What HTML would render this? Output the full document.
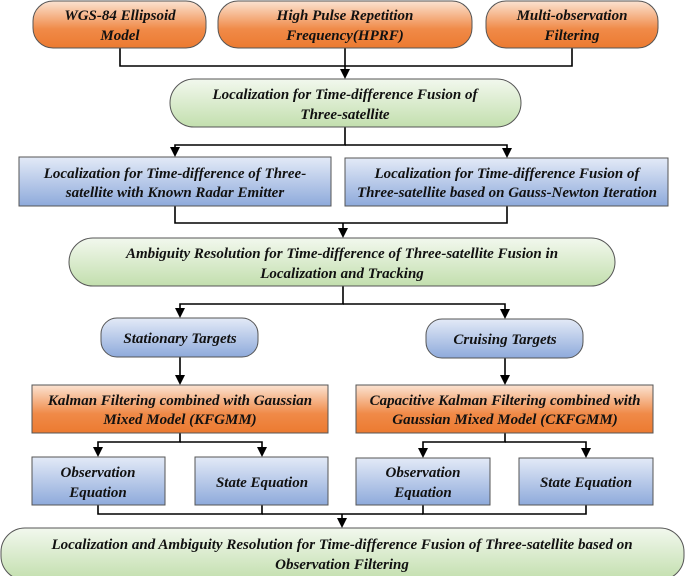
<!DOCTYPE html>
<html><head><meta charset="utf-8"><style>
html,body{margin:0;padding:0;background:#fff;}
svg{display:block;}
text{font-family:"Liberation Serif","DejaVu Serif",serif;font-weight:bold;font-style:italic;font-size:15px;fill:#111;text-anchor:middle;}
</style></head><body>
<svg width="685" height="576" viewBox="0 0 685 576" xmlns="http://www.w3.org/2000/svg" font-family="Liberation Serif, DejaVu Serif, serif">
<defs>
<linearGradient id="o" x1="0" y1="0" x2="0" y2="1"><stop offset="0" stop-color="#fbe3d2"/><stop offset="0.6" stop-color="#f08a48"/><stop offset="1" stop-color="#ec7a30"/></linearGradient>
<linearGradient id="g" x1="0" y1="0" x2="0" y2="1"><stop offset="0" stop-color="#f2f8ee"/><stop offset="1" stop-color="#c3dfae"/></linearGradient>
<linearGradient id="b" x1="0" y1="0" x2="0" y2="1"><stop offset="0" stop-color="#e3eaf7"/><stop offset="1" stop-color="#8eaadb"/></linearGradient>
</defs>
<g stroke="#000" stroke-width="1.6" fill="none">
<path d="M120,48 V66 H572 V48"/>
<path d="M345,48 V72"/>
<path d="M345,127 V145 H175 V150"/>
<path d="M345,145 H507 V151"/>
<path d="M175,206 V223 H507 V206"/>
<path d="M343,223 V231"/>
<path d="M343,286 V304 H180 V311"/>
<path d="M343,304 H505 V312"/>
<path d="M180,357 V378"/>
<path d="M505,358 V378"/>
<path d="M180,433 V442 H98 V450"/>
<path d="M180,442 H262 V450"/>
<path d="M505,433 V442 H423 V451"/>
<path d="M505,442 H586 V451"/>
<path d="M98,505 V514 H262 V505"/>
<path d="M423,505 V514 H586 V505"/>
<path d="M262,514 H423"/>
<path d="M342,514 V521"/>
</g>
<g fill="#000">
<polygon points="340,69 350,69 345,79"/>
<polygon points="170,147 180,147 175,157"/>
<polygon points="502,148 512,148 507,158"/>
<polygon points="338,228 348,228 343,238"/>
<polygon points="175,308 185,308 180,318"/>
<polygon points="500,309 510,309 505,319"/>
<polygon points="175,375 185,375 180,385"/>
<polygon points="500,375 510,375 505,385"/>
<polygon points="93,447 103,447 98,457"/>
<polygon points="257,447 267,447 262,457"/>
<polygon points="418,448 428,448 423,458"/>
<polygon points="581,448 591,448 586,458"/>
<polygon points="337,518 347,518 342,528"/>
</g>
<g stroke="#555" stroke-width="1">
<rect x="33" y="1" width="173" height="47" rx="20" fill="url(#o)"/>
<rect x="218" y="1" width="254" height="47" rx="20" fill="url(#o)"/>
<rect x="486" y="1" width="172" height="47" rx="20" fill="url(#o)"/>
<rect x="170" y="79" width="351" height="48" rx="24" fill="url(#g)"/>
<rect x="19" y="157" width="312" height="49" fill="url(#b)"/>
<rect x="345" y="158" width="323" height="48" fill="url(#b)"/>
<rect x="69" y="238" width="546" height="48" rx="24" fill="url(#g)"/>
<rect x="101" y="318" width="157" height="39" rx="16" fill="url(#b)"/>
<rect x="426" y="319" width="157" height="39" rx="16" fill="url(#b)"/>
<rect x="32" y="385" width="296" height="48" fill="url(#o)"/>
<rect x="356" y="385" width="297" height="48" fill="url(#o)"/>
<rect x="32" y="457" width="133" height="48" fill="url(#b)"/>
<rect x="195" y="457" width="133" height="48" fill="url(#b)"/>
<rect x="356" y="458" width="134" height="47" fill="url(#b)"/>
<rect x="519" y="458" width="134" height="47" fill="url(#b)"/>
<rect x="1" y="528" width="683" height="52" rx="24" fill="url(#g)"/>
</g>
<text x="120" y="20">WGS-84 Ellipsoid</text><text x="120" y="40">Model</text>
<text x="345" y="20">High Pulse Repetition</text><text x="345" y="40">Frequency(HPRF)</text>
<text x="572" y="20">Multi-observation</text><text x="572" y="40">Filtering</text>
<text x="345" y="99">Localization for Time-difference Fusion of</text><text x="345" y="119">Three-satellite</text>
<text x="175" y="178">Localization for Time-difference of Three-</text><text x="175" y="197">satellite with Known Radar Emitter</text>
<text x="507" y="178">Localization for Time-difference Fusion of</text><text x="507" y="197">Three-satellite based on Gauss-Newton Iteration</text>
<text x="342" y="258">Ambiguity Resolution for Time-difference of Three-satellite Fusion in</text><text x="342" y="278">Localization and Tracking</text>
<text x="180" y="343">Stationary Targets</text>
<text x="505" y="344">Cruising Targets</text>
<text x="180" y="405">Kalman Filtering combined with Gaussian</text><text x="180" y="424">Mixed Model (KFGMM)</text>
<text x="505" y="405">Capacitive Kalman Filtering combined with</text><text x="505" y="424">Gaussian Mixed Model (CKFGMM)</text>
<text x="98" y="477">Observation</text><text x="98" y="497">Equation</text>
<text x="262" y="487">State Equation</text>
<text x="423" y="477">Observation</text><text x="423" y="497">Equation</text>
<text x="586" y="487">State Equation</text>
<text x="342" y="549">Localization and Ambiguity Resolution for Time-difference Fusion of Three-satellite based on</text><text x="342" y="569">Observation Filtering</text>
</svg>
</body></html>
